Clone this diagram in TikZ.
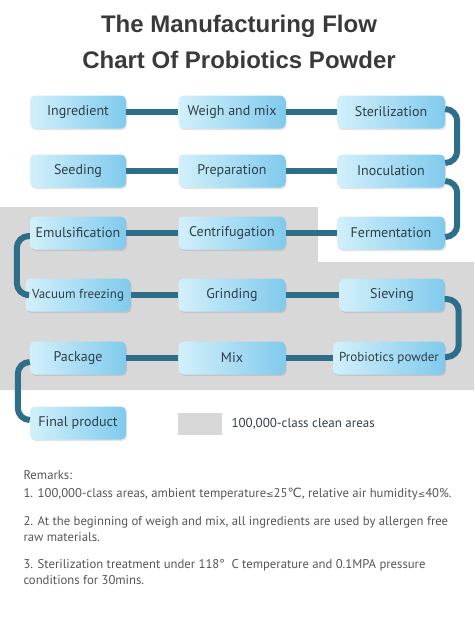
\documentclass[tikz,border=0pt]{standalone}
\usepackage{fontspec}
\setmainfont{PT Sans}
\newfontfamily\titlefont{Liberation Sans}
\newfontfamily\symfont{DejaVu Sans}
\usepackage{xcolor}
\usepackage{tikz}
\usetikzlibrary{shapes}
\usetikzlibrary{shadows}
\usetikzlibrary{positioning}
\definecolor{linkblue}{HTML}{2F6E88}
\definecolor{boxlight}{HTML}{D2F0FB}
\definecolor{boxdark}{HTML}{80CAEC}
\definecolor{boxtext}{HTML}{2F3E48}
\definecolor{cleangray}{HTML}{D8D8D8}
\definecolor{titlegray}{HTML}{3A3A3A}
\definecolor{remarkgray}{HTML}{555555}
\tikzset{
    stepnode/.style = {rectangle, rounded corners=5pt, align=center, left color=boxlight, right color=boxdark, text=boxtext, font=\fontsize{14}{16}\selectfont, minimum width=96pt, minimum height=33pt, inner xsep=2pt, drop shadow={opacity=0.22, shadow xshift=1pt, shadow yshift=-1.5pt}},
    smallstep/.style = {stepnode, font=\fontsize{13}{15}\selectfont},
    link/.style = {-, line width=6pt, linkblue},
    turnlink/.style = {-, line width=6pt, linkblue, rounded corners=12pt},
    remark/.style = {anchor=west, text=remarkgray, font=\fontsize{12.7}{15}\selectfont},
    titletext/.style = {text=titlegray, font=\titlefont\bfseries\fontsize{24}{26}\selectfont},
}
\begin{document}
\begin{tikzpicture}[x=1pt, y=-1pt]
\useasboundingbox (0,0) rectangle (474,618);
% clean area
\fill[cleangray] (0,207) -- (318,207) -- (318,262) -- (474,262) -- (474,390) -- (0,390) -- cycle;
% title
\node[titletext] at (239,26) (title1) {The Manufacturing Flow};
\node[titletext] at (239,60) (title2) {Chart Of Probiotics Powder};
%
\node[stepnode] at (78,112) (ingr) {Ingredient};
\node[stepnode, minimum width=107pt] at (232,112) (weigh) {Weigh and mix};
\node[stepnode, minimum width=108pt] at (391,112) (steril) {Sterilization};
\node[stepnode] at (78,171) (seed) {Seeding};
\node[stepnode, minimum width=107pt] at (232,171) (prep) {Preparation};
\node[stepnode, minimum width=108pt] at (391,171) (inoc) {Inoculation};
\node[stepnode] at (78,233) (emul) {Emulsification};
\node[stepnode, minimum width=107pt] at (232,233) (centr) {Centrifugation};
\node[stepnode, minimum width=108pt] at (391,233) (ferm) {Fermentation};
\node[smallstep, minimum width=105pt] at (78,295) (vacuum) {Vacuum freezing};
\node[stepnode, minimum width=107pt] at (232,295) (grind) {Grinding};
\node[stepnode, minimum width=105pt] at (392,295) (siev) {Sieving};
\node[stepnode] at (78,358) (pack) {Package};
\node[stepnode, minimum width=107pt] at (232,358) (mix) {Mix};
\node[smallstep, minimum width=112pt] at (389,358) (prob) {Probiotics powder};
\node[stepnode] at (78,423) (final) {Final product};
%
\draw[link] (ingr) -- (weigh);
\draw[link] (weigh) -- (steril);
\draw[turnlink] ([yshift=3pt]steril.east) -- ++(12,0) |- ([yshift=8pt]inoc.east);
\draw[link] (inoc) -- (prep);
\draw[link] (prep) -- (seed);
%
\draw[turnlink] ([yshift=-10pt]inoc.east) -- ++(12,0) |- ([yshift=-4pt]ferm.east);
\draw[link] (ferm) -- (centr);
\draw[link] (centr) -- (emul);
\draw[turnlink] ([yshift=-3pt]emul.west) -- ++(-13,0) |- (vacuum.west);
%
\draw[link] (vacuum) -- (grind);
\draw[link] (grind) -- (siev);
\draw[turnlink] ([yshift=-4pt]siev.east) -- ++(14,0) |- ([yshift=1pt]prob.east);
\draw[link] (prob) -- (mix);
\draw[link] (mix) -- (pack);
\draw[turnlink] ([yshift=-4pt]pack.west) -- ++(-12,0) |- ([yshift=3pt]final.west);
% legend
\fill[cleangray] (178,413) rectangle (222,435);
\node[anchor=west, text=boxtext, font=\fontsize{13}{15}\selectfont] at (228,424) (legend) {100,000-class clean areas};
% remarks
\node[remark] at (20,475) (rem0) {Remarks:};
\node[remark] at (20,494) (rem1) {1. 100,000-class areas, ambient temperature{\symfont\small≤}25{\symfont ℃}, relative air humidity{\symfont\small≤}40\%.};
\node[remark] at (20,522) (rem2) {2. At the beginning of weigh and mix, all ingredients are used by allergen free};
\node[remark] at (20,537) (rem2b) {raw materials.};
\node[remark] at (20,565) (rem3) {3. Sterilization treatment under 118°\ \ C temperature and 0.1MPA pressure};
\node[remark] at (20,580) (rem3b) {conditions for 30mins.};
\end{tikzpicture}
\end{document}
